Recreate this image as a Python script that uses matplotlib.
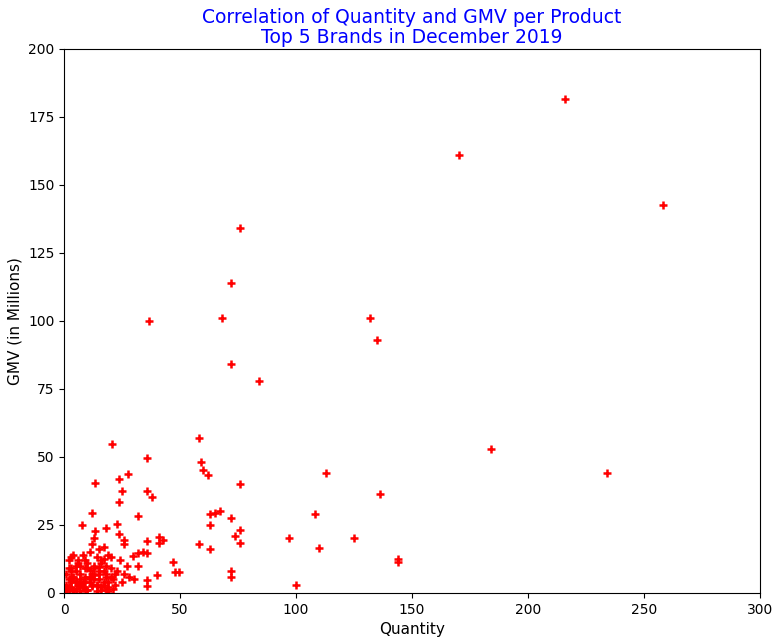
import matplotlib
matplotlib.use("Agg")
import matplotlib.pyplot as plt

outlier_q = [216,170,258,76,72,68,132,135,72,84,58,59,60,62,76,184,234,113,136,63,
             65,67,72,63,76,73.5,76,58,97,125,108,110,63,72,72,100,144,144,36.5]
outlier_g = [181.5,161,142.5,134,114,101,101,93,84,78,57,48,45,43.5,40,53,44,44,36.5,29,
             29.5,30,27.5,25,23,21,18.5,18,20,20,29,16.5,16,8,6,3,12.5,11.5,100]
mid_q = [20.5,35.9,13.5,23.8,27.7,24.9,23.8,35.9,38,12.2,
         32,7.8,18.1,22.8,13.1,23.8,26,26,35.9,40.9,
         40.9,42.7,47.1,47.8,49.5,40,35.9,35.9,32,35.9,
         33.8,31.8,29.6]
mid_g = [54.7,49.5,40.3,41.8,43.6,37.6,33.3,37.6,35.2,29.3,
         28.4,24.8,24,25.2,22.8,21.6,19.5,18,18.9,20.7,
         18.3,19.3,11.3,7.5,7.6,6.4,4.8,2.5,10,14.8,
         15.2,14.5,13.6]
cluster_q = [1,1,2,2,3,3,4,4,5,5,
             6,6,7,7,8,8,9,9,10,10,
             11,11,12,12,13,13,14,14,15,15,
             16,16,17,17,18,18,19,19,20,20,
             21,22,23,24,25,26,27,28,30,1,
             2,3,4,5,6,7,8,9,10,11,
             12,13,14,15,16,17,18,19,20,22,
             2,3,4,6,8,10,12,14,16,18,
             1,2,3,5,7,9,11,13,15,17,
             3,5,7,9,11,13,15,17,19,21]
cluster_g = [0.5,3,1,5,2,8,0.8,6,1.5,10,
             3,12,0.5,7,2,14,4,9,1,11,
             6,15,2.5,18,5,20,3,13,8,16,
             1,12,4,17,7,10,2,14,9,6,
             5,3,8,12,4,7,10,6,5,1.5,
             2,4,6,8,3,5,2,6,9,4,
             7,10,3,5,11,8,6,4,13,7,
             12,9,14,11,4,1,3,0.5,2,1,
             7,9,13,4,10,12,5,9,7,3,
             5.5,4.5,3.5,1.2,8.5,6.5,9.5,12.5,0.6,1.4]

quantity = outlier_q + mid_q + cluster_q
gmv = outlier_g + mid_g + cluster_g

fig, ax = plt.subplots(figsize=(7.82, 6.43), dpi=100)
fig.subplots_adjust(left=0.082, right=0.972, top=0.924, bottom=0.078)
ax.scatter(quantity, gmv, marker='+', color='red', s=30, linewidths=1.8)
ax.set_xlim(0, 300)
ax.set_ylim(0, 200)
ax.set_xlabel('Quantity', fontsize=11)
ax.set_ylabel('GMV (in Millions)', fontsize=11)
ax.set_title('Correlation of Quantity and GMV per Product\nTop 5 Brands in December 2019',
             color='blue', fontsize=13.5, pad=4, linespacing=1.1)
fig.savefig('out.png', dpi=100)
